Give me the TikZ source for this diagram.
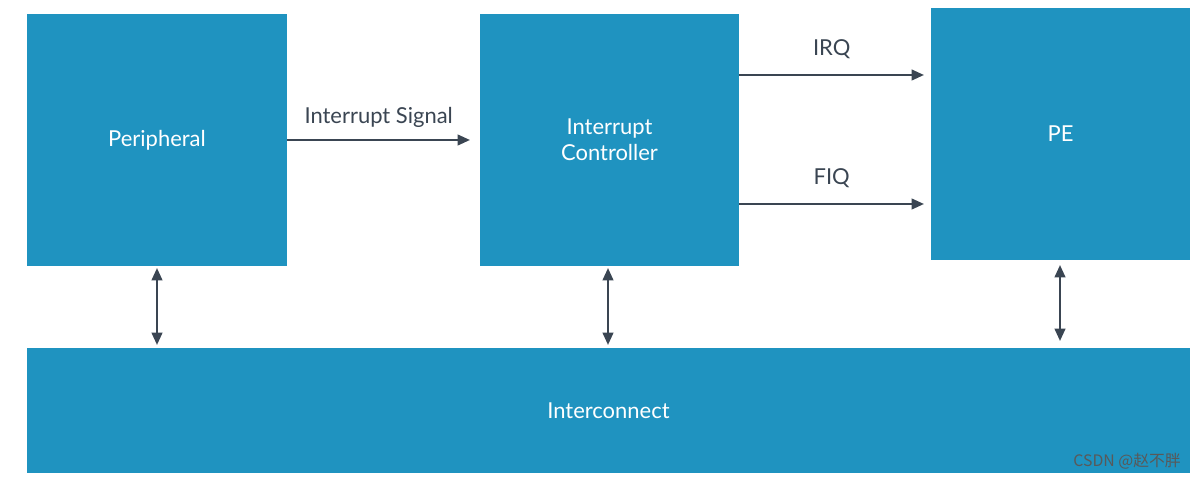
\documentclass[tikz,border=0pt]{standalone}
\usepackage{fontspec}
\setmainfont{Lato}
\newfontfamily\cjk{Noto Sans CJK SC}
\usetikzlibrary{arrows.meta,positioning}
\definecolor{blk}{HTML}{1F93C0}
\definecolor{arr}{HTML}{3A4552}
\begin{document}
\begin{tikzpicture}[x=0.02cm, y=-0.02cm]
\tikzset{
  block/.style={rectangle, fill=blk, text=white, font=\fontsize{12.5}{15}\selectfont, align=center, inner sep=0pt},
  sig/.style={-{Triangle[length=7pt,width=6pt]}, draw=arr, line width=1.3pt},
  bus/.style={{Triangle[length=7pt,width=6pt]}-{Triangle[length=7pt,width=6pt]}, draw=arr, line width=1.3pt},
  lbl/.style={text=arr, font=\fontsize{12.5}{15}\selectfont}
}
\useasboundingbox (0,0) rectangle (1201,479);
\node[block, minimum width=260*0.02cm, minimum height=252*0.02cm] (periph) at (157,140) {Peripheral};
\node[block, minimum width=259*0.02cm, minimum height=252*0.02cm] (gic) at (609.5,140) {Interrupt\\Controller};
\node[block, minimum width=259*0.02cm, minimum height=252*0.02cm] (pe) at (1060.5,134) {PE};
\node[block, minimum width=1163*0.02cm, minimum height=125*0.02cm] (icn) at (608.5,410.5) {Interconnect};
% signals
\coordinate (sigend) at (470,140);
\draw[sig] (periph.east |- sigend) -- (sigend) node[lbl, midway, above=3pt] {Interrupt Signal};
\coordinate (irqend) at (924,75);
\draw[sig] (gic.east |- irqend) -- (irqend) node[lbl, midway, above=5pt] {IRQ};
\coordinate (fiqend) at (924,204);
\draw[sig] (gic.east |- fiqend) -- (fiqend) node[lbl, midway, above=5pt] {FIQ};
% bus links
\coordinate (pa) at (157,268); \coordinate (pb) at (157,345);
\draw[bus] (pa) -- (pb);
\coordinate (ga) at (608,268); \coordinate (gb) at (608,345);
\draw[bus] (ga) -- (gb);
\coordinate (ea) at (1060,265); \coordinate (eb) at (1060,341);
\draw[bus] (ea) -- (eb);
\node[text=gray!70!black, font=\cjk\fontsize{9}{11}\selectfont, anchor=east] (mark) at (1187,461) {CSDN @赵不胖};
\end{tikzpicture}
\end{document}
